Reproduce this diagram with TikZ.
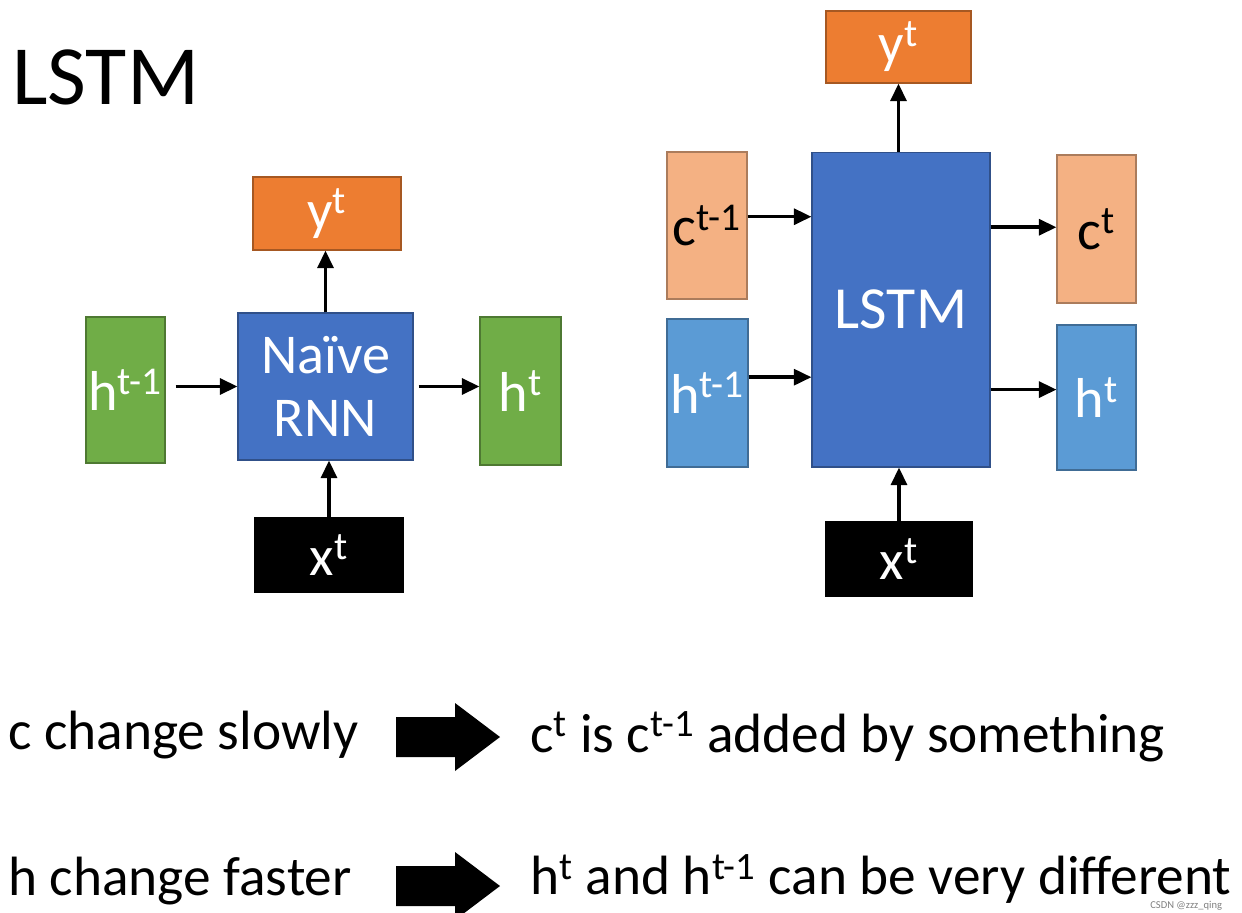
\documentclass[tikz,border=0pt]{standalone}
\usepackage{fontspec}
\setmainfont{Carlito}
\usetikzlibrary{arrows.meta}
\definecolor{org}{HTML}{ED7D31}
\definecolor{blu}{HTML}{4472C4}
\definecolor{grn}{HTML}{70AD47}
\definecolor{sal}{HTML}{F4B183}
\definecolor{lbl}{HTML}{5B9BD5}
\begin{document}
\begin{tikzpicture}[x=0.02cm,y=-0.02cm,
  bx/.style={draw=#1!70!black,fill=#1,line width=0.6pt,inner sep=0,font=\fontsize{32}{36}\selectfont,text=white},
  ar/.style={-{Triangle[length=10pt,width=9pt]},line width=2pt},
  txt/.style={anchor=west,font=\fontsize{31.5}{36}\selectfont,inner sep=0},
  big/.style={fill=black}]
\useasboundingbox (0,0) rectangle (1242,913);
\node[anchor=west,inner sep=0,font=\fontsize{48}{54}\selectfont] (title) at (12,77) {LSTM};
% left
\node[bx=org] (y1) at (327,213.5) [minimum width=2.96cm,minimum height=1.46cm] {y\textsuperscript{t}};
\node[bx=blu] (rnn) at (325.5,386.5) [minimum width=3.5cm,minimum height=2.94cm,align=center] {Naïve\\RNN};
\node[bx=grn] (hp1) at (125.5,390) [minimum width=1.58cm,minimum height=2.92cm] {h\textsuperscript{t-1}};
\node[bx=grn] (hn1) at (520.5,391) [minimum width=1.62cm,minimum height=2.96cm] {h\textsuperscript{t}};
\node[bx=black] (x1) at (329,555) [minimum width=2.96cm,minimum height=1.48cm] {x\textsuperscript{t}};
\draw[ar] ([xshift=0.2cm]hp1.east |- rnn.west) -- (rnn.west);
\draw[ar] ([xshift=0.1cm]rnn.east) -- (hn1.west |- rnn.east);
\draw[ar] (x1.north) -- (rnn.south -| x1.north);
\draw[ar] (rnn.north) -- (y1.south -| rnn.north);
% right
\node[bx=org] (y2) at (898.5,47) [minimum width=2.9cm,minimum height=1.44cm] {y\textsuperscript{t}};
\node[bx=blu] (lstm) at (901,309.5) [minimum width=3.56cm,minimum height=6.3cm,font=\fontsize{34}{38}\selectfont] {LSTM};
\node[bx=sal,text=black] (cp) at (707,225.5) [minimum width=1.6cm,minimum height=2.94cm] {c\textsuperscript{t-1}};
\node[bx=lbl] (hp2) at (707.5,393) [minimum width=1.62cm,minimum height=2.96cm] {h\textsuperscript{t-1}};
\node[bx=sal,text=black] (cn) at (1096.5,229) [minimum width=1.58cm,minimum height=2.96cm] {c\textsuperscript{t}};
\node[bx=lbl] (hn2) at (1096.5,397.5) [minimum width=1.58cm,minimum height=2.9cm] {h\textsuperscript{t}};
\node[bx=black] (x2) at (899,559) [minimum width=2.92cm,minimum height=1.48cm] {x\textsuperscript{t}};
\draw[ar] ([yshift=5]cp.east) -- ([yshift=5]lstm.west |- cp.east);
\draw[ar] ([yshift=9]hp2.east) -- ([yshift=9]lstm.west |- hp2.east);
\draw[ar] ([yshift=1]lstm.east |- cn.east) -- ([yshift=1]cn.west);
\draw[ar] ([yshift=4.5]lstm.east |- hn2.east) -- ([yshift=4.5]hn2.west);
\draw[ar] (x2.north) -- (lstm.south -| x2.north);
\draw[ar] (lstm.north -| y2.south) -- (y2.south);
% bottom
\node[txt] (t1) at (8,735) {c change slowly};
\fill[big] (396,717) -- (455,717) -- (455,703) -- (500,737) -- (455,771) -- (455,757) -- (396,757) -- cycle;
\node[txt] (t2) at (530,737) {c\textsuperscript{t} is c\textsuperscript{t-1} added by something};
\node[txt] (t3) at (8,881) {h change faster};
\fill[big] (396,866) -- (455,866) -- (455,852) -- (500,886) -- (455,920) -- (455,906) -- (396,906) -- cycle;
\node[txt] (t4) at (530,879) {h\textsuperscript{t} and h\textsuperscript{t-1} can be very different};
\node[anchor=west,inner sep=0,font=\fontsize{6}{7}\selectfont,text=gray] (wm) at (1150,906) {CSDN @zzz\_qing};
\end{tikzpicture}
\end{document}
